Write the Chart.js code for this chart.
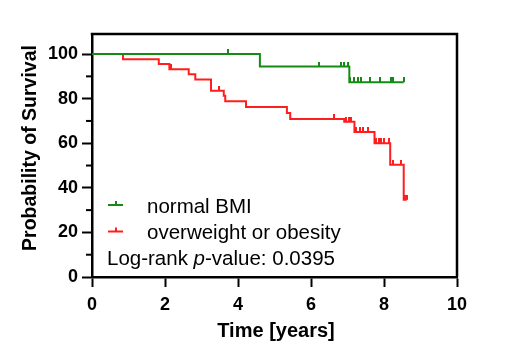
<!DOCTYPE html>
<html>
<head>
<meta charset="utf-8">
<script src="https://cdn.jsdelivr.net/npm/chart.js@4.4.1/dist/chart.umd.min.js"></script>
<style>
html,body{margin:0;padding:0;background:#fff;}
#wrap{width:514px;height:360px;position:relative;}
</style>
</head>
<body>
<div id="wrap"><canvas id="c" width="514" height="360"></canvas></div>
<script>
// ---- Data ----
const seriesNames = ["normal BMI", "overweight or obesity"];
const pValueText = "0.0395";

// normal BMI: event times and survival (%) after each step
const normalTimes = [0, 4.6, 7.05, 8.54];
const normalSurv  = [100, 94.4, 87.4, 87.4];
// normal BMI censored observations
const normalCensorTimes = [3.73, 6.21, 6.83, 6.91, 7.0, 7.08, 7.17, 7.28, 7.37, 7.61, 7.90, 8.19, 8.26, 8.54];
const normalCensorSurv  = [100, 94.4, 94.4, 94.4, 94.4, 87.4, 87.4, 87.4, 87.4, 87.4, 87.4, 87.4, 87.4, 87.4];

// overweight or obesity
const overTimes = [0, 0.85, 1.83, 2.12, 2.65, 2.83, 3.26, 3.61, 3.65, 4.22, 5.34, 5.43, 6.91, 7.19, 7.74, 8.17, 8.54, 8.62];
const overSurv  = [100, 97.7, 95.5, 93.2, 91.0, 88.6, 83.6, 81.3, 78.8, 76.3, 73.6, 70.9, 69.6, 65.0, 60.0, 50.3, 34.6, 34.6];
const overCensorTimes = [2.17, 3.47, 6.62, 6.95, 7.03, 7.1, 7.24, 7.33, 7.42, 7.56, 7.79, 7.86, 7.93, 8.0, 8.14, 8.25, 8.47, 8.57, 8.62];
const overCensorSurv  = [93.2, 83.6, 70.9, 69.6, 69.6, 69.6, 65.0, 65.0, 65.0, 65.0, 60.0, 60.0, 60.0, 60.0, 60.0, 50.3, 50.3, 34.6, 34.6];

const xTicks = [0, 2, 4, 6, 8, 10];
const yTicks = [0, 20, 40, 60, 80, 100];
const yMinorTicks = [10, 30, 50, 70, 90];

// ---- Styles ----
const GREEN = 'rgb(20,140,20)';
const RED = 'rgb(255,30,30)';
const FONT = '"Liberation Sans", Arial, Helvetica, sans-serif';

function tickImage(color) {
  const cv = document.createElement('canvas');
  cv.width = 2; cv.height = 10;
  const g = cv.getContext('2d');
  g.fillStyle = color;
  g.fillRect(0, 0, 2, 5);
  return cv;
}

const zip = (xs, ys) => xs.map((x, i) => ({x: x, y: ys[i]}));

const decorPlugin = {
  id: 'decor',
  afterDraw(chart) {
    const ctx = chart.ctx;
    const a = chart.chartArea;
    const ys = chart.scales.y;
    ctx.save();
    // top and right frame
    ctx.strokeStyle = '#000';
    ctx.lineWidth = 2.5;
    ctx.beginPath();
    ctx.moveTo(a.left - 1.25, a.top);
    ctx.lineTo(a.right, a.top);
    ctx.lineTo(a.right, a.bottom);
    ctx.stroke();
    // minor y ticks
    ctx.lineWidth = 2;
    yMinorTicks.forEach(v => {
      const py = ys.getPixelForValue(v);
      ctx.beginPath();
      ctx.moveTo(a.left - 6, py);
      ctx.lineTo(a.left, py);
      ctx.stroke();
    });
    // axis titles
    ctx.fillStyle = '#000';
    ctx.font = 'bold 20px ' + FONT;
    ctx.textAlign = 'center';
    ctx.textBaseline = 'alphabetic';
    ctx.fillText('Time [years]', 276, 337);
    ctx.save();
    ctx.translate(36, 148);
    ctx.rotate(-Math.PI / 2);
    ctx.font = 'bold 19.5px ' + FONT;
    ctx.fillText('Probability of Survival', 0, 0);
    ctx.restore();
    // legend
    const colors = [GREEN, RED];
    const lineY = [205, 231.5];
    const textBase = [212.5, 239];
    ctx.textAlign = 'left';
    ctx.font = '20.5px ' + FONT;
    for (let i = 0; i < 2; i++) {
      ctx.strokeStyle = colors[i];
      ctx.lineWidth = 2;
      ctx.beginPath();
      ctx.moveTo(108, lineY[i]);
      ctx.lineTo(123, lineY[i]);
      ctx.moveTo(116, lineY[i]);
      ctx.lineTo(116, lineY[i] - 4);
      ctx.stroke();
      ctx.fillStyle = '#000';
      ctx.fillText(seriesNames[i], 147, textBase[i]);
    }
    // p-value
    let x = 107;
    const yb = 265;
    const parts = [['Log-rank ', ''], ['p', 'italic '], ['-value: ' + pValueText, '']];
    parts.forEach(p => {
      ctx.font = p[1] + '20.5px ' + FONT;
      ctx.fillText(p[0], x, yb);
      x += ctx.measureText(p[0]).width;
    });
    ctx.restore();
  }
};

new Chart(document.getElementById('c'), {
  type: 'line',
  data: {
    datasets: [
      { label: seriesNames[0], data: zip(normalTimes, normalSurv), borderColor: GREEN, borderWidth: 2, stepped: 'before', pointRadius: 0, fill: false },
      { label: seriesNames[0] + ' censored', data: zip(normalCensorTimes, normalCensorSurv), showLine: false, pointStyle: tickImage(GREEN), borderColor: GREEN, backgroundColor: GREEN },
      { label: seriesNames[1], data: zip(overTimes, overSurv), borderColor: RED, borderWidth: 2, stepped: 'before', pointRadius: 0, fill: false },
      { label: seriesNames[1] + ' censored', data: zip(overCensorTimes, overCensorSurv), showLine: false, pointStyle: tickImage(RED), borderColor: RED, backgroundColor: RED }
    ]
  },
  options: {
    responsive: false,
    animation: false,
    devicePixelRatio: 1,
    layout: { padding: { top: 34, right: 57, left: 0, bottom: 0 } },
    plugins: { legend: { display: false }, tooltip: { enabled: false } },
    elements: { point: { hoverRadius: 0 } },
    scales: {
      x: {
        type: 'linear', min: 0, max: 10,
        afterFit: s => { s.height = 83; },
        afterBuildTicks: s => { s.ticks = xTicks.map(v => ({value: v})); },
        ticks: { color: '#000', font: { family: FONT, weight: 'bold', size: 18 }, padding: 7, maxRotation: 0 },
        grid: { drawOnChartArea: false, drawTicks: true, tickLength: 10, tickWidth: 2, tickColor: '#000' },
        border: { display: true, color: '#000', width: 2.5 }
      },
      y: {
        type: 'linear', min: 0, max: 109,
        afterFit: s => { s.width = 92; },
        afterBuildTicks: s => { s.ticks = yTicks.map(v => ({value: v})); },
        ticks: { color: '#000', font: { family: FONT, weight: 'bold', size: 18 }, padding: 4 },
        grid: { drawOnChartArea: false, drawTicks: true, tickLength: 10, tickWidth: 2, tickColor: '#000' },
        border: { display: true, color: '#000', width: 2.5 }
      }
    }
  },
  plugins: [decorPlugin]
});
</script>
</body>
</html>
